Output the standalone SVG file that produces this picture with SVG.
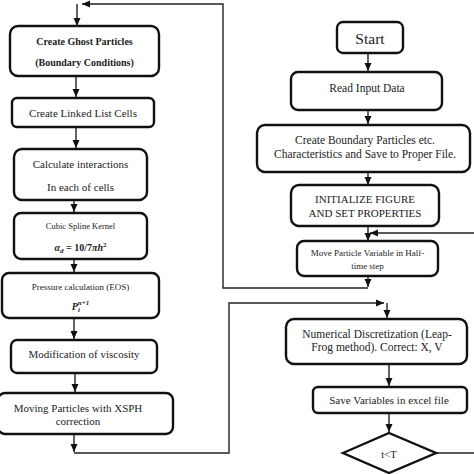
<svg xmlns="http://www.w3.org/2000/svg" width="474" height="474" viewBox="0 0 474 474" font-family="'Liberation Serif', 'Times New Roman', 'DejaVu Serif', serif">
<defs>
<marker id="ah" markerUnits="userSpaceOnUse" markerWidth="8" markerHeight="8" viewBox="0 0 8 8" refX="8" refY="4" orient="auto">
<path d="M0,0.5 L8,4 L0,7.5 Z" fill="#111"/>
</marker>
</defs>
<style>
.box{fill:#fff;stroke:#111;stroke-width:2.4}
.c{fill:none;stroke:#222;stroke-width:1.4}
text{font-family:'Liberation Serif','Times New Roman','DejaVu Serif',serif;fill:#222;text-anchor:middle}
.b{font-weight:bold}
</style>
<rect width="474" height="474" fill="#fff"/>
<g id="connectors">
<path class="c" d="M76 76 V97" marker-end="url(#ah)"/>
<path class="c" d="M76 127 V148" marker-end="url(#ah)"/>
<path class="c" d="M74 200 V212" marker-end="url(#ah)"/>
<path class="c" d="M74 259 V272" marker-end="url(#ah)"/>
<path class="c" d="M74 318 V339" marker-end="url(#ah)"/>
<path class="c" d="M75 373 V392" marker-end="url(#ah)"/>
<path class="c" d="M74 434 V452" marker-end="url(#ah)"/>
<path class="c" d="M74 453 H229 V303 H384" marker-end="url(#ah)"/>
<path class="c" d="M387 303 V318" marker-end="url(#ah)"/>
<path class="c" d="M368 53 V71" marker-end="url(#ah)"/>
<path class="c" d="M368 110 V124" marker-end="url(#ah)"/>
<path class="c" d="M368 172 V185" marker-end="url(#ah)"/>
<path class="c" d="M368 226 V241" marker-end="url(#ah)"/>
<path class="c" d="M474 233 H370" marker-end="url(#ah)"/>
<path class="c" d="M368 276 V287" marker-end="url(#ah)"/>
<path class="c" d="M368 288 H223 V4 H82" marker-end="url(#ah)"/>
<path class="c" d="M77 4 V26" marker-end="url(#ah)"/>
<path class="c" d="M389 364 V386" marker-end="url(#ah)"/>
<path class="c" d="M389 413 V432" marker-end="url(#ah)"/>
<path class="c" d="M436 453 H474"/>
</g>
<g id="ghost">
<rect class="box" x="10" y="26" width="149" height="50" rx="8"/>
<text class="b" x="84.5" y="44.5" font-size="10">Create Ghost Particles</text>
<text class="b" x="84.5" y="65.5" font-size="10">(Boundary Conditions)</text>
</g>
<g id="linked">
<rect class="box" x="12" y="98" width="142" height="29" rx="5"/>
<text x="83" y="116.5" font-size="11">Create Linked List Cells</text>
</g>
<g id="interactions">
<rect class="box" x="14" y="149" width="133" height="51" rx="8"/>
<text x="80.5" y="168" font-size="11">Calculate interactions</text>
<text x="80.5" y="191" font-size="11">In each of cells</text>
</g>
<g id="kernel">
<rect class="box" x="14" y="213" width="133" height="46" rx="7"/>
<text x="80.5" y="229" font-size="8.5">Cubic Spline Kernel</text>
<text x="80.5" y="251" font-size="10" class="b"><tspan font-style="italic">α</tspan><tspan font-style="italic" font-size="7" dy="2">d</tspan><tspan dy="-2"> = 10/7</tspan><tspan font-style="italic">πh</tspan><tspan font-size="7" dy="-4">2</tspan></text>
</g>
<g id="pressure">
<rect class="box" x="2" y="273" width="157" height="45" rx="7"/>
<text x="80.5" y="290" font-size="9">Pressure calculation (EOS)</text>
<text x="80.5" y="310" font-size="10" class="b"><tspan font-style="italic">P</tspan><tspan font-style="italic" font-size="7" dy="2">i</tspan><tspan font-style="italic" font-size="7" dx="-2" dy="-7">n+1</tspan></text>
</g>
<g id="viscosity">
<rect class="box" x="11" y="340" width="146" height="33" rx="6"/>
<text x="84" y="358" font-size="11">Modification of viscosity</text>
</g>
<g id="xsph">
<rect class="box" x="-2" y="393" width="175" height="41" rx="7"/>
<text x="78" y="412" font-size="11">Moving Particles with XSPH</text>
<text x="78" y="425" font-size="11">correction</text>
</g>
<g id="start">
<rect class="box" x="337" y="22" width="66" height="31" rx="6"/>
<text x="370" y="43.5" font-size="15.5">Start</text>
</g>
<g id="read">
<rect class="box" x="291" y="72" width="151" height="38" rx="7"/>
<text x="367" y="92" font-size="11.5">Read Input Data</text>
</g>
<g id="boundary">
<rect class="box" x="257" y="125" width="213" height="47" rx="8"/>
<text x="365" y="144" font-size="11.5">Create Boundary Particles etc.</text>
<text x="365" y="158" font-size="11.5">Characteristics and Save to Proper File.</text>
</g>
<g id="init">
<rect class="box" x="291" y="185" width="148" height="41" rx="8"/>
<text x="365" y="203" font-size="11">INITIALIZE FIGURE</text>
<text x="365" y="217" font-size="11">AND SET PROPERTIES</text>
</g>
<g id="move">
<rect class="box" x="297" y="241" width="141" height="35" rx="7"/>
<text x="367.5" y="256" font-size="9">Move Particle Variable in Half-</text>
<text x="367.5" y="269" font-size="9">time step</text>
</g>
<g id="numerical">
<rect class="box" x="286" y="319" width="181" height="45" rx="8"/>
<text x="377" y="338" font-size="11.5">Numerical Discretization (Leap-</text>
<text x="377" y="351" font-size="11.5">Frog method). Correct: X, V</text>
</g>
<g id="save">
<rect class="box" x="313" y="387" width="154" height="26" rx="5"/>
<text x="389" y="404" font-size="11">Save Variables in excel file</text>
</g>
<g id="decision">
<path class="box" d="M343 453 L389 433 L436 453 L389 473 Z"/>
<text x="389" y="458" font-size="10.5">t&lt;T</text>
</g>
</svg>
